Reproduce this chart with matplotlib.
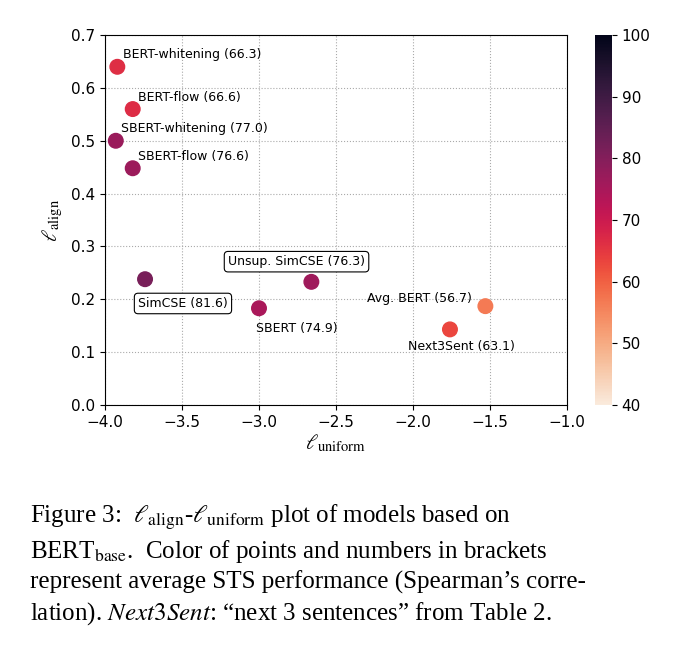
import matplotlib
matplotlib.use("Agg")
import matplotlib.pyplot as plt
import seaborn as sns

names = ["BERT-whitening", "BERT-flow", "SBERT-whitening", "SBERT-flow",
         "Unsup. SimCSE", "SimCSE", "SBERT", "Avg. BERT", "Next3Sent"]
uniform = [-3.92, -3.82, -3.93, -3.82, -2.66, -3.74, -3.00, -1.53, -1.76]
align = [0.640, 0.560, 0.500, 0.448, 0.233, 0.238, 0.183, 0.187, 0.143]
sts = [66.3, 66.6, 77.0, 76.6, 76.3, 81.6, 74.9, 56.7, 63.1]
# label offsets in points
offs = [(4, 6), (4, 6), (4, 6), (4, 6), (-60, 12), (-5, -20), (-2, -17), (-85, 3), (-30, -15)]
boxed = [False, False, False, False, True, True, False, False, False]

plt.rcParams["mathtext.fontset"] = "stix"
fig = plt.figure(figsize=(7, 6.5), dpi=100)
ax = fig.add_axes([0.15, 0.377, 0.66, 0.569])
cax = fig.add_axes([0.85, 0.377, 0.024, 0.569])
cmap = sns.color_palette("rocket_r", as_cmap=True)
sc = ax.scatter(uniform, align, c=sts, cmap=cmap, vmin=40, vmax=100, s=110, zorder=3)
for n, x, y, v, o, b in zip(names, uniform, align, sts, offs, boxed):
    kw = {}
    if b:
        kw["bbox"] = dict(boxstyle="round,pad=0.3", fc="white", ec="black", lw=0.8)
    ax.annotate(f"{n} ({v})", (x, y), xytext=o, textcoords="offset points",
                fontsize=9, **kw)
ax.set_xlim(-4.0, -1.0)
ax.set_ylim(0.0, 0.7)
ax.grid(True, linestyle=":", color="#aaaaaa")
ax.tick_params(labelsize=11)
ax.set_xlabel(r"$\ell_{\rm uniform}$", fontsize=15, labelpad=2)
ax.set_ylabel(r"$\ell_{\rm align}$", fontsize=15)
cb = fig.colorbar(sc, cax=cax)
cb.ax.tick_params(labelsize=11)
cb.outline.set_visible(False)

cap = ("Figure 3:  $\\ell_{\\rm align}$-$\\ell_{\\rm uniform}$ plot of models based on\n"
       "BERT$_{\\rm base}$.  Color of points and numbers in brackets\n"
       "represent average STS performance (Spearman\u2019s corre-\n"
       "lation). $\\it{Next3Sent}$: \u201cnext 3 sentences\u201d from Table 2.")
fig.text(0.043, 0.131, cap, fontsize=18, family="Liberation Serif",
         va="center", ha="left", linespacing=1.3)
fig.savefig("out.png")
